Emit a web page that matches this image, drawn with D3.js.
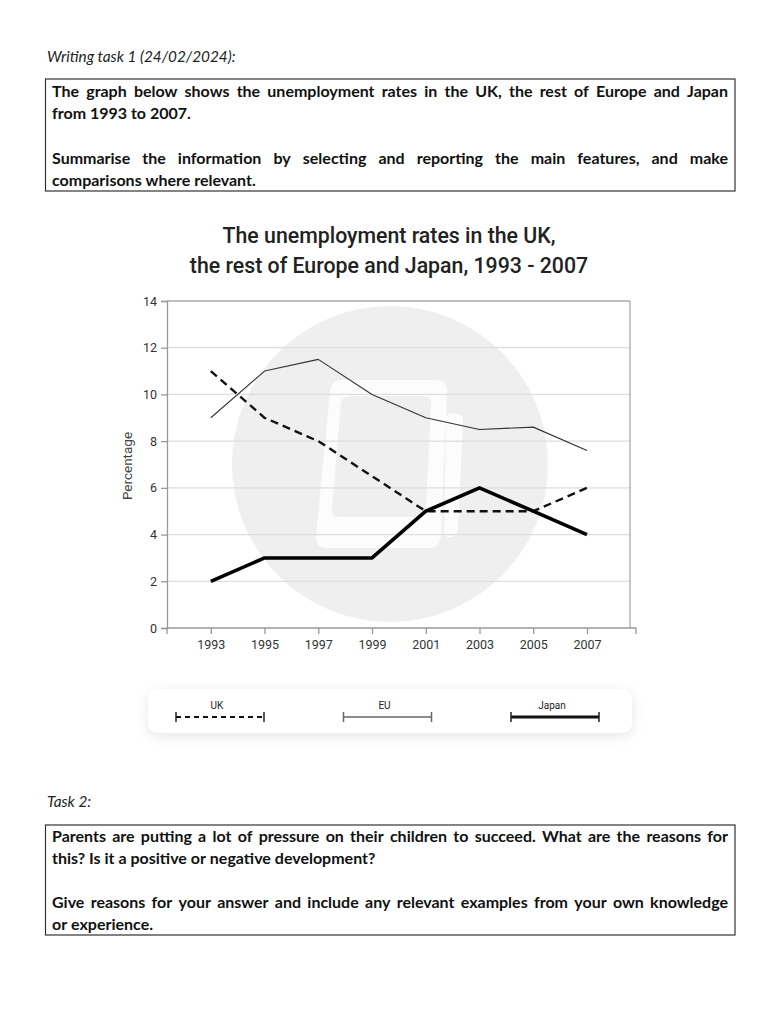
<!DOCTYPE html>
<html>
<head>
<meta charset="utf-8">
<script src="https://cdn.jsdelivr.net/npm/d3@7"></script>
<style>
  html, body { margin: 0; padding: 0; background: #fff; }
  svg { display: block; }
</style>
</head>
<body>
<div id="chart"></div>
<script>
// ---------- data ----------
const years = [1993, 1995, 1997, 1999, 2001, 2003, 2005, 2007];
const ukValues = [11, 9, 8, 6.5, 5, 5, 5, 6];
const euValues = [9, 11, 11.5, 10, 9, 8.5, 8.6, 7.6];
const japanValues = [2, 3, 3, 3, 5, 6, 5, 4];
const yTicks = [0, 2, 4, 6, 8, 10, 12, 14];
const seriesNames = ["UK", "EU", "Japan"];
const titleLines = ["The unemployment rates in the UK,", "the rest of Europe and Japan, 1993 - 2007"];
const yAxisLabel = "Percentage";
const task1Heading = "Writing task 1 (24/02/2024):";
const task1Para1 = ["The graph below shows the unemployment rates in the UK, the rest of Europe and Japan", "from 1993 to 2007."];
const task1Para2 = ["Summarise the information by selecting and reporting the main features, and make", "comparisons where relevant."];
const task2Heading = "Task 2:";
const task2Para1 = ["Parents are putting a lot of pressure on their children to succeed. What are the reasons for", "this? Is it a positive or negative development?"];
const task2Para2 = ["Give reasons for your answer and include any relevant examples from your own knowledge", "or experience."];

// ---------- setup ----------
const W = 768, H = 1024;
const svg = d3.select("#chart").append("svg").attr("width", W).attr("height", H);
svg.append("rect").attr("width", W).attr("height", H).attr("fill", "#fff");

const bodyFont = "Lato, 'Open Sans', sans-serif";
const chartFont = "Roboto, 'Noto Sans', sans-serif";
const bodySize = 16;

function headingText(txt, y) {
  svg.append("text").attr("x", 47).attr("y", y)
    .attr("font-family", bodyFont).attr("font-style", "italic")
    .attr("font-size", 15.3).attr("fill", "#222").text(txt);
}

function textLine(str, y, justify) {
  const x0 = 52, x1 = 728;
  const words = str.split(" ");
  const g = svg.append("g");
  const mk = t => g.append("text").attr("font-family", bodyFont).attr("font-weight", 700)
    .attr("font-size", bodySize).attr("fill", "#111").text(t);
  const nodes = words.map(w => mk(w).attr("y", y));
  const widths = nodes.map(n => n.node().getComputedTextLength());
  const total = d3.sum(widths);
  let gap;
  if (justify && words.length > 1) gap = (x1 - x0 - total) / (words.length - 1);
  else {
    const t = mk("a a"), t2 = mk("aa");
    gap = t.node().getComputedTextLength() - t2.node().getComputedTextLength();
    t.remove(); t2.remove();
  }
  let x = x0;
  nodes.forEach((n, i) => { n.attr("x", x); x += widths[i] + gap; });
}

function box(y0, y1) {
  svg.append("rect").attr("x", 45.5).attr("y", y0).attr("width", 689.5).attr("height", y1 - y0)
    .attr("fill", "none").attr("stroke", "#333").attr("stroke-width", 1.2);
}

// Task 1
headingText(task1Heading, 62);
box(79, 191);
textLine(task1Para1[0], 96.5, true);
textLine(task1Para1[1], 119, false);
textLine(task1Para2[0], 163.5, true);
textLine(task1Para2[1], 186, false);

// Task 2
headingText(task2Heading, 807);
box(825, 935);
textLine(task2Para1[0], 841.5, true);
textLine(task2Para1[1], 863.5, false);
textLine(task2Para2[0], 908, true);
textLine(task2Para2[1], 930, false);

// ---------- chart ----------
const x = d3.scaleLinear().domain([1991.37, 2008.6]).range([167, 630]);
const y = d3.scaleLinear().domain([0, 14]).range([628, 301]);

// watermark
const wm = svg.append("g");
wm.append("circle").attr("cx", 390).attr("cy", 464).attr("r", 158).attr("fill", "#efefef");
wm.append("path").attr("fill", "#fcfcfc")
  .attr("d", "M342,380 L436,380 Q448,380 447,392 L441,536 Q440,548 428,548 L327,548 Q315,548 316,536 L330,392 Q331,380 342,380 Z");
wm.append("path").attr("fill", "#efefef")
  .attr("d", "M352,396 L424,396 Q431,396 431,403 L426,510 Q425,517 418,517 L338,517 Q331,517 332,510 L341,403 Q342,396 352,396 Z");
wm.append("path").attr("fill", "#fcfcfc")
  .attr("d", "M452,413 Q463,413 463,420 L458,530 Q457,537 450,537 Q443,537 444,530 L446,420 Q446,413 452,413 Z");

// title
svg.append("g").selectAll("text").data(titleLines).join("text")
  .attr("x", 389).attr("y", (d, i) => 243 + i * 30)
  .attr("text-anchor", "middle").attr("font-family", chartFont)
  .attr("font-weight", 500).attr("font-size", 21.3).attr("fill", "#222")
  .text(d => d);

// grid
svg.append("g").selectAll("line").data(yTicks.filter(t => t > 0 && t < 14)).join("line")
  .attr("x1", x.range()[0]).attr("x2", x.range()[1])
  .attr("y1", d => y(d)).attr("y2", d => y(d))
  .attr("stroke", "#dedede").attr("stroke-width", 1.2);

// frame top and right
svg.append("line").attr("x1", x.range()[0]).attr("x2", x.range()[1])
  .attr("y1", y(14)).attr("y2", y(14)).attr("stroke", "#aaa").attr("stroke-width", 1.3);
svg.append("line").attr("x1", x.range()[1]).attr("x2", x.range()[1])
  .attr("y1", y(14)).attr("y2", y(0)).attr("stroke", "#aaa").attr("stroke-width", 1.3);

// y axis
const yAxis = svg.append("g").attr("transform", `translate(${x.range()[0]},0)`)
  .call(d3.axisLeft(y).tickValues(yTicks).tickSize(6).tickPadding(4).tickFormat(d3.format("d")));
yAxis.select(".domain").attr("stroke", "#999").attr("stroke-width", 1.3);
yAxis.selectAll(".tick line").attr("stroke", "#999").attr("stroke-width", 1.3);
yAxis.selectAll(".tick text").attr("font-family", chartFont).attr("font-size", 12.5).attr("fill", "#333");

// x axis
const xAxis = svg.append("g").attr("transform", `translate(0,${y(0)})`)
  .call(d3.axisBottom(x).tickValues(years).tickSize(6).tickPadding(6).tickFormat(d3.format("d")));
xAxis.select(".domain").remove();
xAxis.selectAll(".tick line").attr("stroke", "#999").attr("stroke-width", 1.3);
xAxis.selectAll(".tick text").attr("font-family", chartFont).attr("font-size", 12.5).attr("fill", "#333");
xAxis.append("path").attr("d", `M${x.range()[0]},6V0H${x.range()[1] + 6}V6`)
  .attr("fill", "none").attr("stroke", "#999").attr("stroke-width", 1.3);

// y label
svg.append("text").attr("transform", "translate(132,466) rotate(-90)")
  .attr("text-anchor", "middle").attr("font-family", chartFont).attr("font-size", 13.5)
  .attr("fill", "#444").text(yAxisLabel);

// lines
const line = d3.line().x(d => x(d[0])).y(d => y(d[1]));
const zip = vals => years.map((yr, i) => [yr, vals[i]]);
const styles = {
  UK: { stroke: "#111", width: 2.4, dash: "8,5" },
  EU: { stroke: "#333", width: 1.1, dash: null },
  Japan: { stroke: "#000", width: 3.6, dash: null }
};
const seriesData = { UK: ukValues, EU: euValues, Japan: japanValues };
["EU", "UK", "Japan"].forEach(name => {
  const s = styles[name];
  svg.append("path").datum(zip(seriesData[name])).attr("d", line)
    .attr("fill", "none").attr("stroke", s.stroke).attr("stroke-width", s.width)
    .attr("stroke-linejoin", "round")
    .attr("stroke-dasharray", s.dash);
});

// ---------- legend ----------
const defs = svg.append("defs");
const f = defs.append("filter").attr("id", "shadow").attr("x", "-10%").attr("y", "-50%").attr("width", "120%").attr("height", "200%");
f.append("feDropShadow").attr("dx", 0).attr("dy", 3).attr("stdDeviation", 6).attr("flood-color", "#000").attr("flood-opacity", 0.1);

svg.append("rect").attr("x", 148).attr("y", 689).attr("width", 484).attr("height", 44)
  .attr("rx", 11).attr("fill", "#fff").attr("filter", "url(#shadow)");

const legendX = d3.scalePoint().domain(seriesNames).range([176, 511]);
const legendLen = 88;
const leg = svg.append("g").selectAll("g").data(seriesNames).join("g")
  .attr("transform", d => `translate(${legendX(d)},0)`);
leg.append("text").attr("x", legendLen / 2 - 3).attr("y", 709).attr("text-anchor", "middle")
  .attr("font-family", chartFont).attr("font-size", 10).attr("fill", "#222").text(d => d);
leg.append("line").attr("x1", 0).attr("x2", legendLen).attr("y1", 717).attr("y2", 717)
  .attr("stroke", d => d === "EU" ? "#666" : "#111")
  .attr("stroke-width", d => d === "Japan" ? 3 : (d === "UK" ? 2 : 1.5))
  .attr("stroke-dasharray", d => d === "UK" ? "5,4" : null);
leg.append("path").attr("d", `M0,712V722M${legendLen},712V722`)
  .attr("stroke", d => d === "EU" ? "#666" : "#222").attr("stroke-width", 1.5);
</script>
</body>
</html>
